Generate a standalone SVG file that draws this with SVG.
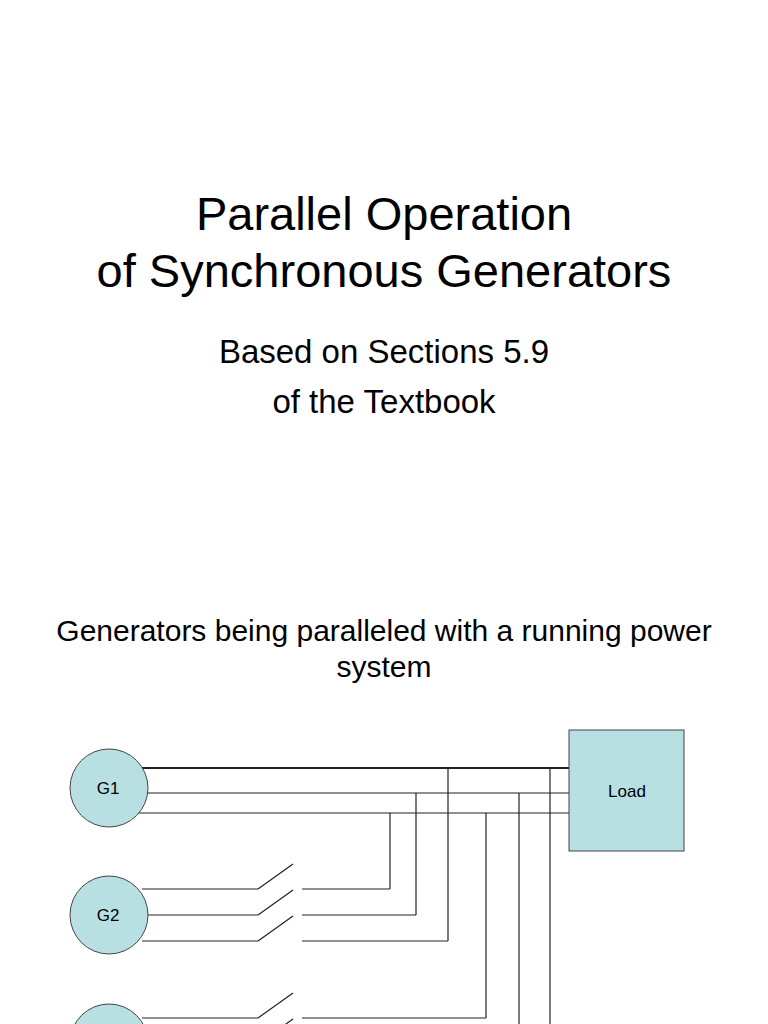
<svg xmlns="http://www.w3.org/2000/svg" width="768" height="1024" viewBox="0 0 768 1024">
<style>
text{font-family:"Liberation Sans",Arial,sans-serif;fill:#000;text-anchor:middle}
.t1{font-size:47px}.t2{font-size:33px}.t3{font-size:30px}.lb{font-size:17px}
.n{fill:#b8dfe1;stroke:#444;stroke-width:1}
#wires line{stroke:#222;stroke-width:1.2}
</style>
<rect width="768" height="1024" fill="#fff"/>
<text class="t1" x="384" y="230">Parallel Operation</text>
<text class="t1" x="384" y="287">of Synchronous Generators</text>
<text class="t2" x="384" y="363">Based on Sections 5.9</text>
<text class="t2" x="384" y="413">of the Textbook</text>
<text class="t3" x="384" y="641">Generators being paralleled with a running power</text>
<text class="t3" x="384" y="677">system</text>
<g id="wires">
<line x1="140" y1="768" x2="569" y2="768" style="stroke-width:2"/>
<line x1="147" y1="793" x2="569" y2="793"/>
<line x1="135" y1="813" x2="569" y2="813"/>
<line x1="390" y1="813" x2="390" y2="889"/>
<line x1="416" y1="793" x2="416" y2="915"/>
<line x1="448" y1="768" x2="448" y2="941"/>
<line x1="486" y1="813" x2="486" y2="1018"/>
<line x1="519" y1="793" x2="519" y2="1024"/>
<line x1="550" y1="768" x2="550" y2="1024"/>
<line x1="142" y1="889" x2="258" y2="889"/><line x1="258" y1="889" x2="293" y2="864"/><line x1="302" y1="889" x2="390" y2="889"/>
<line x1="147" y1="915" x2="258" y2="915"/><line x1="258" y1="915" x2="293" y2="890"/><line x1="302" y1="915" x2="416" y2="915"/>
<line x1="142" y1="941" x2="258" y2="941"/><line x1="258" y1="941" x2="293" y2="916"/><line x1="302" y1="941" x2="448" y2="941"/>
<line x1="142" y1="1018" x2="258" y2="1018"/><line x1="258" y1="1018" x2="293" y2="993"/><line x1="302" y1="1018" x2="486" y2="1018"/>
<line x1="258" y1="1044" x2="293" y2="1019"/>
</g>
<g id="G1"><ellipse class="n" cx="109" cy="788" rx="39" ry="39"/><text class="lb" x="108" y="794">G1</text></g>
<g id="G2"><ellipse class="n" cx="109" cy="915" rx="39" ry="39"/><text class="lb" x="108" y="921">G2</text></g>
<g id="G3"><ellipse class="n" cx="109" cy="1043" rx="39" ry="39"/></g>
<g id="Load"><rect class="n" x="569" y="730" width="115" height="121"/><text class="lb" x="627" y="797">Load</text></g>
</svg>
